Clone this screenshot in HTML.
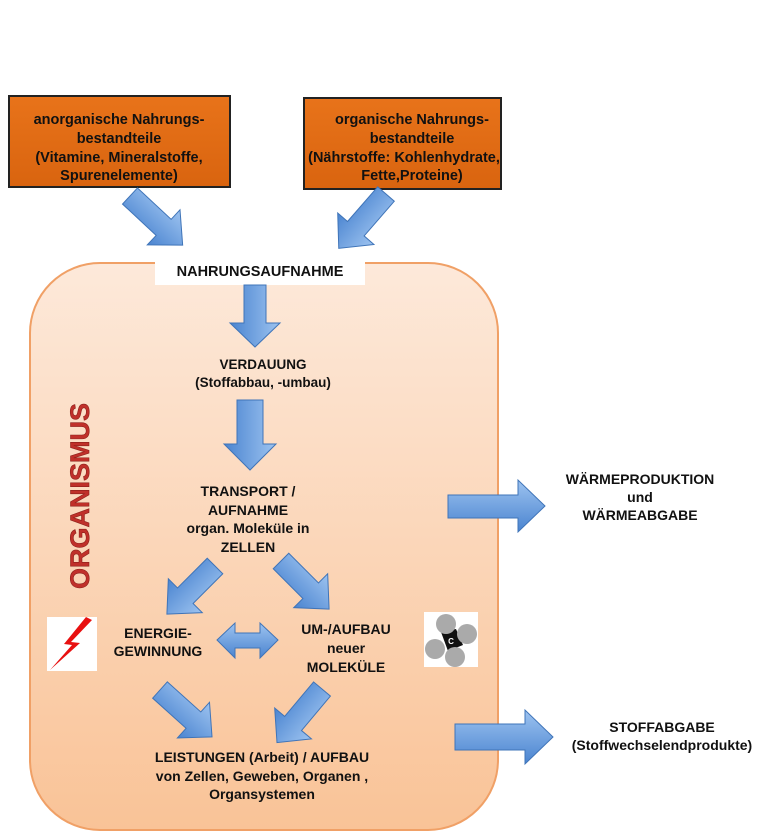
<!DOCTYPE html>
<html><head><meta charset="utf-8"><style>
body{margin:0;background:#fff}
svg{display:block}
text{font-family:"Liberation Sans",sans-serif;font-weight:bold;fill:#111;text-anchor:middle}
</style></head><body>
<svg width="770" height="838" viewBox="0 0 770 838" xmlns="http://www.w3.org/2000/svg">
<defs>
<linearGradient id="org" x1="0" y1="0" x2="0" y2="1">
<stop offset="0" stop-color="#fde9da"/><stop offset="1" stop-color="#f9c397"/></linearGradient>
<linearGradient id="ar" x1="0" y1="0" x2="0" y2="1">
<stop offset="0" stop-color="#9dc3f0"/><stop offset="1" stop-color="#4a84d0"/></linearGradient>
<linearGradient id="box" x1="0" y1="0" x2="0" y2="1">
<stop offset="0" stop-color="#e8731a"/><stop offset="1" stop-color="#d9640f"/></linearGradient>
</defs>
<rect x="30" y="263" width="468" height="567" rx="70" fill="url(#org)" stroke="#f0a066" stroke-width="2"/>
<rect x="9" y="96" width="221" height="91" fill="url(#box)" stroke="#222" stroke-width="2"/>
<rect x="304" y="98" width="197" height="91" fill="url(#box)" stroke="#222" stroke-width="2"/>
<text font-size="14.5"><tspan x="119" y="124">anorganische Nahrungs-</tspan><tspan x="119" y="143">bestandteile</tspan><tspan x="119" y="162">(Vitamine, Mineralstoffe,</tspan><tspan x="119" y="180">Spurenelemente)</tspan></text>
<text font-size="14.5"><tspan x="412" y="124">organische Nahrungs-</tspan><tspan x="412" y="143">bestandteile</tspan><tspan x="404" y="162">(Nährstoffe: Kohlenhydrate,</tspan><tspan x="412" y="180">Fette,Proteine)</tspan></text>
<rect x="155" y="255" width="210" height="30" fill="#fff"/>
<text x="260" y="276" font-size="14.5">NAHRUNGSAUFNAHME</text>
<g fill="url(#ar)" stroke="#3f74b8" stroke-width="1">
<polygon transform="translate(130,196) rotate(43)" points="0,-11 46,-11 46,-24 72,0 46,24 46,11 0,11"/>
<polygon transform="translate(386,194) rotate(131)" points="0,-11 46,-11 46,-24 72,0 46,24 46,11 0,11"/>
<polygon transform="translate(255,285) rotate(90)" points="0,-11 38,-11 38,-25 62,0 38,25 38,11 0,11"/>
<polygon transform="translate(250,400) rotate(90)" points="0,-13 44,-13 44,-26 70,0 44,26 44,13 0,13"/>
<polygon transform="translate(215,566) rotate(135)" points="0,-11 42,-11 42,-24 68,0 42,24 42,11 0,11"/>
<polygon transform="translate(281,561) rotate(45)" points="0,-11 42,-11 42,-24 68,0 42,24 42,11 0,11"/>
<polygon transform="translate(160,690) rotate(42)" points="0,-11 45,-11 45,-24 70,0 45,24 45,11 0,11"/>
<polygon transform="translate(322,689) rotate(130)" points="0,-11 45,-11 45,-24 70,0 45,24 45,11 0,11"/>
<polygon points="217,640 235,623 235,633 260,633 260,623 278,640 260,658 260,648 235,648 235,658"/>
<polygon points="448,495 518,495 518,480 545,506 518,532 518,518 448,518"/>
<polygon points="455,724 525,724 525,710 553,737 525,764 525,750 455,750"/>
</g>
<text font-size="13.5"><tspan x="263" y="369">VERDAUUNG</tspan><tspan x="263" y="387">(Stoffabbau, -umbau)</tspan></text>
<text font-size="14"><tspan x="248" y="496">TRANSPORT /</tspan><tspan x="248" y="515">AUFNAHME</tspan><tspan x="248" y="533">organ. Moleküle in</tspan><tspan x="248" y="552">ZELLEN</tspan></text>
<text font-size="14"><tspan x="158" y="638">ENERGIE-</tspan><tspan x="158" y="656">GEWINNUNG</tspan></text>
<text font-size="14"><tspan x="346" y="634">UM-/AUFBAU</tspan><tspan x="346" y="653">neuer</tspan><tspan x="346" y="672">MOLEKÜLE</tspan></text>
<text font-size="14"><tspan x="262" y="762">LEISTUNGEN (Arbeit) / AUFBAU</tspan><tspan x="262" y="781">von Zellen, Geweben, Organen ,</tspan><tspan x="262" y="799">Organsystemen</tspan></text>
<text font-size="14"><tspan x="640" y="484">WÄRMEPRODUKTION</tspan><tspan x="640" y="502">und</tspan><tspan x="640" y="520">WÄRMEABGABE</tspan></text>
<text font-size="14"><tspan x="662" y="732">STOFFABGABE</tspan><tspan x="662" y="750">(Stoffwechselendprodukte)</tspan></text>
<text transform="translate(89,496) rotate(-90)" font-size="27" style="fill:#c0302a;stroke:#8a1f1a;stroke-width:0.6">ORGANISMUS</text>
<rect x="47" y="617" width="50" height="54" fill="#fff"/>
<polygon points="86,617 64,644 72,645 50,670 80,643 71,642 92,620" fill="#e81010"/>
<rect x="424" y="612" width="54" height="55" fill="#fff"/>
<polygon points="441,632 456,629 463,645 448,651" fill="#111"/>
<circle cx="446" cy="624" r="10" fill="#aaa"/>
<circle cx="467" cy="634" r="10" fill="#aaa"/>
<circle cx="435" cy="649" r="10" fill="#aaa"/>
<circle cx="455" cy="657" r="10" fill="#aaa"/>
<text x="451" y="644" font-size="8" style="fill:#fff">C</text>
</svg>
</body></html>
